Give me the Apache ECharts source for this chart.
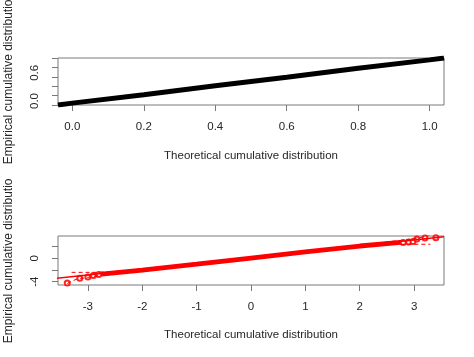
<!DOCTYPE html>
<html><head><meta charset="utf-8">
<script src="https://cdn.jsdelivr.net/npm/echarts@6/dist/echarts.min.js"></script>
<style>
html,body{margin:0;padding:0;background:#fff;width:474px;height:357px;overflow:hidden}
#top{position:absolute;left:0;top:0;width:474px;height:179px}
#bot{position:absolute;left:0;top:179px;width:474px;height:178px}
</style></head><body>
<div id="top"></div><div id="bot"></div>
<script>
// ---- Top panel (P-P plot) ----
const ppTheoretical = [-0.04, 0.0, 0.2, 0.4, 0.6, 0.8, 1.0, 1.04];
const ppEmpirical   = [0.0, 0.04, 0.22, 0.41, 0.59, 0.78, 0.96, 1.0];
const ppXTicks = [0, 0.2, 0.4, 0.6, 0.8, 1.0];
const ppYTicks = [0, 0.2, 0.4, 0.6, 0.8, 1.0];
const ppYLabels = [0, 0.6];

// ---- Bottom panel (Q-Q plot) ----
const qqBandX = [-2.75, -2.0, -1.0, 0.0, 1.0, 2.0, 2.75];
const qqBandY = [-2.7, -2.0, -1.0, 0.05, 1.08, 2.1, 2.72];
const qqTailX = [-3.38, -3.15, -3.0, -2.9, -2.8, 2.8, 2.9, 2.98, 3.05, 3.2, 3.4];
const qqTailY = [-4.2, -3.4, -3.2, -2.95, -2.78, 2.72, 2.8, 2.88, 3.3, 3.45, 3.5];
const qqLineX = [-3.57, 3.55];
const qqLineY = [-3.42, 3.69];
const qqUpperX = [-3.3, -2.85, -2.5, -2.0, -1.0, 0.0, 1.0, 2.0, 2.5, 2.8, 3.0, 3.22, 3.38];
const qqUpperY = [-2.4, -2.4, -2.25, -1.85, -0.9, 0.15, 1.2, 2.25, 2.8, 3.1, 3.35, 3.75, 4.4];
const qqLowerX = [-3.38, -3.22, -3.0, -2.8, -2.5, -2.0, -1.0, 0.0, 1.0, 2.0, 2.5, 2.85, 3.3];
const qqLowerY = [-4.3, -3.6, -3.25, -2.95, -2.65, -2.1, -1.05, 0.0, 1.0, 1.95, 2.35, 2.4, 2.4];
const qqXTicks = [-3, -2, -1, 0, 1, 2, 3];
const qqYTicks = [-4, -2, 0, 2];
const qqYLabels = [-4, 0];

const xTitle = 'Theoretical cumulative distribution';
const yTitle = 'Empirical cumulative distribution';

const FONT = "'Liberation Sans', Arial, sans-serif";
const BOX = '#7a7a7a';
const TXT = '#262626';
const zip = (a, b) => a.map((v, i) => [v, b[i]]);

function axisCommon(ticks, labels, fmt, isY, pad) {
  return {
    type: 'value',
    axisLine: { show: false, onZero: false },
    splitLine: { show: false },
    axisTick: { show: true, inside: false, length: 6, lineStyle: { color: BOX, width: 1 }, customValues: ticks },
    axisLabel: {
      show: true, customValues: labels, formatter: fmt,
      color: TXT, fontFamily: FONT, fontSize: 11.5,
      margin: isY ? 17 : 16, rotate: isY ? 90 : 0,
      padding: pad || 0,
      hideOverlap: false, showMinLabel: true, showMaxLabel: true
    },
    nameLocation: 'middle',
    nameTextStyle: isY
      ? { color: TXT, fontFamily: FONT, fontSize: 12, padding: [0, 0, 0, 6] }
      : { color: TXT, fontFamily: FONT, fontSize: 11.5 }
  };
}

function gridOpt(top, height) {
  return { left: 58, right: 30, top: top, height: height, show: true, borderColor: BOX, borderWidth: 1,
    backgroundColor: 'transparent', containLabel: false, outerBoundsMode: 'none' };
}

const chartTop = echarts.init(document.getElementById('top'), null, { renderer: 'canvas' });
chartTop.setOption({
  animation: false,
  backgroundColor: '#fff',
  grid: gridOpt(58, 47),
  xAxis: Object.assign(axisCommon(ppXTicks, ppXTicks, v => Number(v).toFixed(1), false),
    { min: -0.04, max: 1.04, name: xTitle, nameGap: 45 }),
  yAxis: Object.assign(axisCommon(ppYTicks, ppYLabels, v => Number(v).toFixed(1), true, [0, 0, 0, 8]),
    { min: 0, max: 1, name: yTitle, nameGap: 43 }),
  series: [{
    type: 'line', data: zip(ppTheoretical, ppEmpirical), showSymbol: false,
    lineStyle: { color: '#000', width: 5 }, clip: true
  }]
});

const chartBot = echarts.init(document.getElementById('bot'), null, { renderer: 'canvas' });
chartBot.setOption({
  animation: false,
  backgroundColor: '#fff',
  grid: gridOpt(57, 49),
  xAxis: Object.assign(axisCommon(qqXTicks, qqXTicks, v => String(v), false),
    { min: -3.55, max: 3.55, name: xTitle, nameGap: 44 }),
  yAxis: Object.assign(axisCommon(qqYTicks, qqYLabels, v => String(v), true),
    { min: -4.56, max: 3.81, name: yTitle, nameGap: 43 }),
  series: [
    { type: 'line', data: zip(qqUpperX, qqUpperY), showSymbol: false, clip: true,
      lineStyle: { color: '#ff0000', width: 1, type: [4, 3] } },
    { type: 'line', data: zip(qqLowerX, qqLowerY), showSymbol: false, clip: true,
      lineStyle: { color: '#ff0000', width: 1, type: [4, 3] } },
    { type: 'line', data: zip(qqBandX, qqBandY), showSymbol: false, clip: true,
      lineStyle: { color: '#ff0000', width: 4.8 } },
    { type: 'scatter', data: zip(qqTailX, qqTailY), symbol: 'emptyCircle', symbolSize: 5, clip: true,
      itemStyle: { color: '#ff0000', borderColor: '#ff3030', borderWidth: 0.8, opacity: 0.85 } },
    { type: 'line', data: zip(qqLineX, qqLineY), showSymbol: false, clip: true,
      lineStyle: { color: '#ff0000', width: 1.5 } }
  ]
});
</script>
</body></html>
